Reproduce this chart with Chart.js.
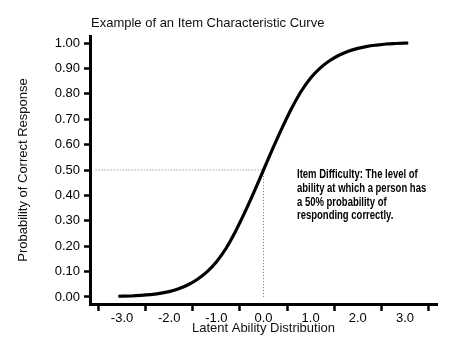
<!DOCTYPE html>
<html>
<head>
<meta charset="utf-8">
<script src="https://cdn.jsdelivr.net/npm/chart.js@4.4.1/dist/chart.umd.min.js"></script>
<style>
  html, body { margin: 0; padding: 0; background: #fff; }
  #wrap { width: 474px; height: 355px; }
</style>
</head>
<body>
<div id="wrap"><canvas id="c" width="474" height="355"></canvas></div>
<script>
// ---- data ----
const CHART_TITLE = 'Example of an Item Characteristic Curve';
const X_TITLE = 'Latent Ability Distribution';
const Y_TITLE = 'Probability of Correct Response';
const ABILITY = [-3.08, -2.8, -2.6, -2.4, -2.2, -2.0, -1.8, -1.6, -1.4, -1.2, -1.0, -0.8, -0.6, -0.4, -0.2, 0.0, 0.2, 0.4, 0.6, 0.8, 1.0, 1.2, 1.4, 1.6, 1.8, 2.0, 2.2, 2.4, 2.6, 2.8, 3.07];
const PROBABILITY = [0.003, 0.004, 0.006, 0.009, 0.014, 0.021, 0.032, 0.048, 0.070, 0.099, 0.138, 0.190, 0.256, 0.332, 0.414, 0.500, 0.586, 0.668, 0.744, 0.810, 0.862, 0.901, 0.930, 0.952, 0.968, 0.979, 0.987, 0.992, 0.996, 0.998, 1.000];
const DIFFICULTY = 0.0;       // ability at which P = 0.5
const DIFFICULTY_P = 0.5;
const X_TICKS = [-3.5, -3.0, -2.5, -2.0, -1.5, -1.0, -0.5, 0.0, 0.5, 1.0, 1.5, 2.0, 2.5, 3.0, 3.5];
const Y_TICKS = [0.0, 0.1, 0.2, 0.3, 0.4, 0.5, 0.6, 0.7, 0.8, 0.9, 1.0];
const NOTE_LINES = ['Item Difficulty: The level of', 'ability at which a person has', 'a 50% probability of', 'responding correctly.'];

const X_MIN = -3.68, X_MAX = 3.68, Y_MIN = -0.0276, Y_MAX = 1.0276;

const curve = ABILITY.map((x, i) => ({ x: x, y: PROBABILITY[i] }));
const guide = [
  { x: X_MIN + 0.12, y: DIFFICULTY_P },
  { x: DIFFICULTY, y: DIFFICULTY_P },
  { x: DIFFICULTY, y: 0 }
];

const textPlugin = {
  id: 'texts',
  afterDraw(chart) {
    const ctx = chart.ctx;
    ctx.save();
    ctx.fillStyle = '#111';
    ctx.textAlign = 'left';
    ctx.textBaseline = 'middle';
    ctx.font = '13px "Liberation Sans", Arial, sans-serif';
    ctx.fillText(CHART_TITLE, 91, 23);
    ctx.fillStyle = '#000';
    ctx.font = 'bold 13px "Liberation Sans", Arial, sans-serif';
    const ys = [174, 188, 202, 215.5];
    NOTE_LINES.forEach((t, i) => {
      ctx.save();
      ctx.translate(297, ys[i]);
      ctx.scale(0.73, 1);
      ctx.fillText(t, 0, 0);
      ctx.restore();
    });
    ctx.restore();
  }
};

new Chart(document.getElementById('c'), {
  type: 'line',
  data: {
    datasets: [
      {
        data: curve,
        borderColor: '#000',
        borderWidth: 3.2,
        pointRadius: 0,
        fill: false,
        cubicInterpolationMode: 'monotone'
      },
      {
        data: guide,
        borderColor: '#777',
        borderWidth: 1,
        borderDash: [1, 2],
        pointRadius: 0,
        fill: false,
        tension: 0
      }
    ]
  },
  options: {
    responsive: false,
    animation: false,
    layout: { padding: { left: 10, right: 37, top: 36, bottom: 19 } },
    plugins: { legend: { display: false }, tooltip: { enabled: false }, title: { display: false } },
    scales: {
      x: {
        type: 'linear',
        min: X_MIN,
        max: X_MAX,
        afterBuildTicks: (s) => { s.ticks = X_TICKS.map(v => ({ value: v })); },
        afterFit: (s) => { s.height = 32; },
        grid: {
          drawOnChartArea: false,
          drawTicks: true,
          tickLength: 7,
          tickWidth: 2.5,
          tickColor: (c) => (c.tick && Math.abs(c.tick.value % 1) < 1e-9) ? 'rgba(0,0,0,0)' : '#000'
        },
        border: { color: '#000', width: 3 },
        ticks: {
          autoSkip: false,
          maxRotation: 0,
          padding: 1,
          color: '#000',
          font: { family: '"Liberation Sans", Arial, sans-serif', size: 13, lineHeight: 1 },
          callback: (v) => Math.abs(v % 1) < 1e-9 ? Number(v).toFixed(1) : ''
        },
        title: {
          display: true,
          text: X_TITLE,
          color: '#111',
          padding: { top: 0, bottom: 0 },
          font: { family: '"Liberation Sans", Arial, sans-serif', size: 13, lineHeight: 1.2 }
        }
      },
      y: {
        type: 'linear',
        min: Y_MIN,
        max: Y_MAX,
        afterBuildTicks: (s) => { s.ticks = Y_TICKS.map(v => ({ value: v })); },
        afterFit: (s) => { s.width = 80; },
        grid: {
          drawOnChartArea: false,
          drawTicks: true,
          tickLength: 6,
          tickWidth: 2.5,
          tickColor: '#000'
        },
        border: { color: '#000', width: 3 },
        ticks: {
          padding: 4,
          color: '#000',
          font: { family: '"Liberation Sans", Arial, sans-serif', size: 13 },
          callback: (v) => Number(v).toFixed(2)
        },
        title: {
          display: true,
          text: Y_TITLE,
          color: '#111',
          padding: { top: 6, bottom: 0 },
          font: { family: '"Liberation Sans", Arial, sans-serif', size: 13, lineHeight: 1.2 }
        }
      }
    }
  },
  plugins: [textPlugin]
});
</script>
</body>
</html>
